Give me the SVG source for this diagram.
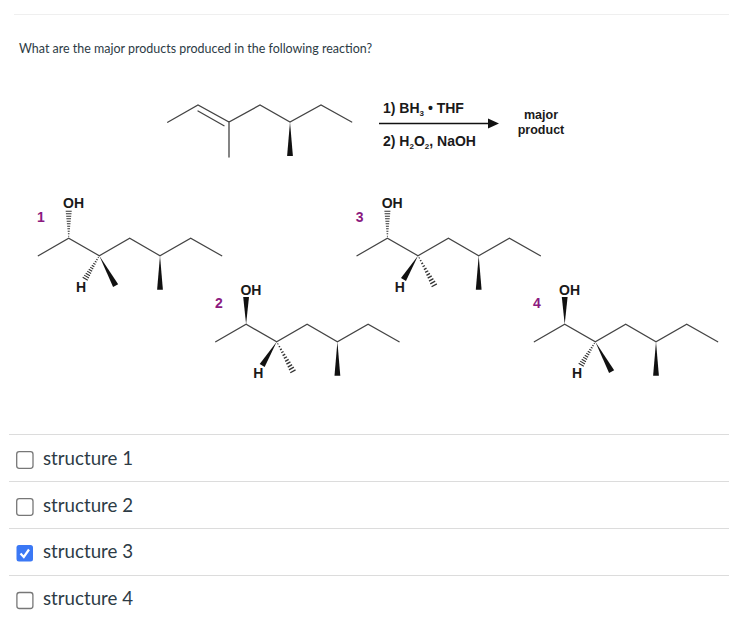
<svg xmlns="http://www.w3.org/2000/svg" width="747" height="628" viewBox="0 0 747 628">
<style>
.b{fill:none;stroke:#444;stroke-width:1.3;stroke-linecap:round;stroke-linejoin:miter}
.w{fill:#111}
.h{fill:none;stroke:#333;stroke-width:1.1}
.a{font-family:"Liberation Sans",Arial,sans-serif;font-weight:700;fill:#1a1a1a}
.at{font-size:14px;text-anchor:middle}
.n{font-size:14px;fill:#8c1a80;text-anchor:middle}
.r{font-size:14px}
.s{font-size:8px}
.m{font-size:12.500px;text-anchor:middle}
.q{font-family:Lato,"Liberation Sans",sans-serif;fill:#2d3b45}
.o{font-size:19px}
.d{stroke:#dcdcdc;stroke-width:1;fill:none}
.c{fill:#fff;stroke:#777;stroke-width:1.300}
</style>
<defs>
<polygon id="wedge" class="w" points="0,0 2.900,-34 -2.900,-34"/>
<path id="hash" class="h" d="M-.5-2H.5M-.8-4.500H.8M-1-7H1M-1.300-9.500H1.300M-1.500-12H1.500M-1.800-14.500H1.800M-2-17H2M-2.300-19.500H2.300M-2.500-22H2.500M-2.800-24.500H2.800M-3-27H3"/>
<path id="chain" class="b" d="M38.300 255.700L68.700 238.300L99.300 255.700L129.700 238.300L160 255.700L190.700 238.300L221.700 255.700"/>
<g id="tail">
<use href="#chain"/>
<use href="#wedge" transform="translate(160 255.700) rotate(180)"/>
</g>
</defs>
<rect width="747" height="628" fill="#fff"/>
<path d="M14 14.500H729" fill="none" stroke="#efefef"/>
<text class="q" x="19" y="53" font-size="13.300" textLength="353" lengthAdjust="spacingAndGlyphs">What are the major products produced in the following reaction?</text>
<g id="connectors">
<path class="b" d="M167.700 122.300L198 105L229 122L260 105L290 122L321 105L351.700 122M198 111L224 125.700M229 122V157"/>
<use href="#wedge" transform="translate(290 122) rotate(180)"/>
<path d="M379 123.500H490" stroke="#111" stroke-width="1.700" fill="none"/>
<polygon class="w" points="499,123.500 488,118.500 488,128.500"/>
</g>
<g id="reagents">
<text class="a r" x="383" y="113">1)  BH<tspan class="s" dy="3">3</tspan><tspan dy="-3"> • THF</tspan></text>
<text class="a r" x="383" y="145.500">2)  H<tspan class="s" dy="3">2</tspan><tspan dy="-3">O</tspan><tspan class="s" dy="3">2</tspan><tspan dy="-3">, NaOH</tspan></text>
</g>
<g id="product-label">
<text class="a m" x="541" y="119">major</text>
<text class="a m" x="541" y="134">product</text>
</g>
<g id="structure-1">
<use href="#tail"/>
<use href="#hash" transform="translate(68.700 238.300)"/>
<use href="#hash" transform="translate(99.300 255.700) rotate(211.400)"/>
<use href="#wedge" transform="translate(99.300 255.700) rotate(151.300)"/>
<text class="a at" x="73.500" y="207.500">OH</text>
<text class="a at" x="81" y="292">H</text>
<text class="a n" x="41" y="222">1</text>
</g>
<g id="structure-2" transform="translate(177.400 86)">
<use href="#tail"/>
<use href="#wedge" transform="translate(68.700 238.300) scale(1 .8)"/>
<use href="#wedge" transform="translate(99.300 255.700) rotate(211.400) scale(1 .82)"/>
<use href="#hash" transform="translate(99.300 255.700) rotate(151.300) scale(1 1.250)"/>
<text class="a at" x="73.500" y="208.500">OH</text>
<text class="a at" x="81" y="292">H</text>
<text class="a n" x="41.500" y="222">2</text>
</g>
<g id="structure-3" transform="translate(318.700 0)">
<use href="#tail"/>
<use href="#hash" transform="translate(68.700 238.300)"/>
<use href="#wedge" transform="translate(99.300 255.700) rotate(211.400) scale(1 .82)"/>
<use href="#hash" transform="translate(99.300 255.700) rotate(151.300) scale(1 1.250)"/>
<text class="a at" x="73.500" y="207.500">OH</text>
<text class="a at" x="81" y="292">H</text>
<text class="a n" x="41" y="222">3</text>
</g>
<g id="structure-4" transform="translate(496 86)">
<use href="#tail"/>
<use href="#wedge" transform="translate(68.700 238.300) scale(1 .8)"/>
<use href="#hash" transform="translate(99.300 255.700) rotate(211.400)"/>
<use href="#wedge" transform="translate(99.300 255.700) rotate(151.300)"/>
<text class="a at" x="73.500" y="208.500">OH</text>
<text class="a at" x="81" y="292">H</text>
<text class="a n" x="41" y="222">4</text>
</g>
<g id="options">
<path class="d" d="M9 434.500H729M9 481.500H729M9 528.500H729M9 575.500H729"/>
<rect class="c" x="16.700" y="451.700" width="16.300" height="16.600" rx="2.500"/>
<text class="q o" x="43" y="465" textLength="90" lengthAdjust="spacingAndGlyphs">structure 1</text>
<rect class="c" x="16.700" y="498.700" width="16.300" height="16.600" rx="2.500"/>
<text class="q o" x="43" y="512" textLength="90" lengthAdjust="spacingAndGlyphs">structure 2</text>
<rect x="16.500" y="545" width="16.500" height="16.500" rx="2.500" fill="#3b78f5"/>
<path d="M20.500 553.500L23.800 557L29 549.500" fill="none" stroke="#fff" stroke-width="2.200"/>
<text class="q o" x="43" y="558" textLength="90" lengthAdjust="spacingAndGlyphs">structure 3</text>
<rect class="c" x="16.900" y="592.500" width="16" height="16" rx="2.500"/>
<text class="q o" x="43" y="605" textLength="90" lengthAdjust="spacingAndGlyphs">structure 4</text>
</g>
</svg>
